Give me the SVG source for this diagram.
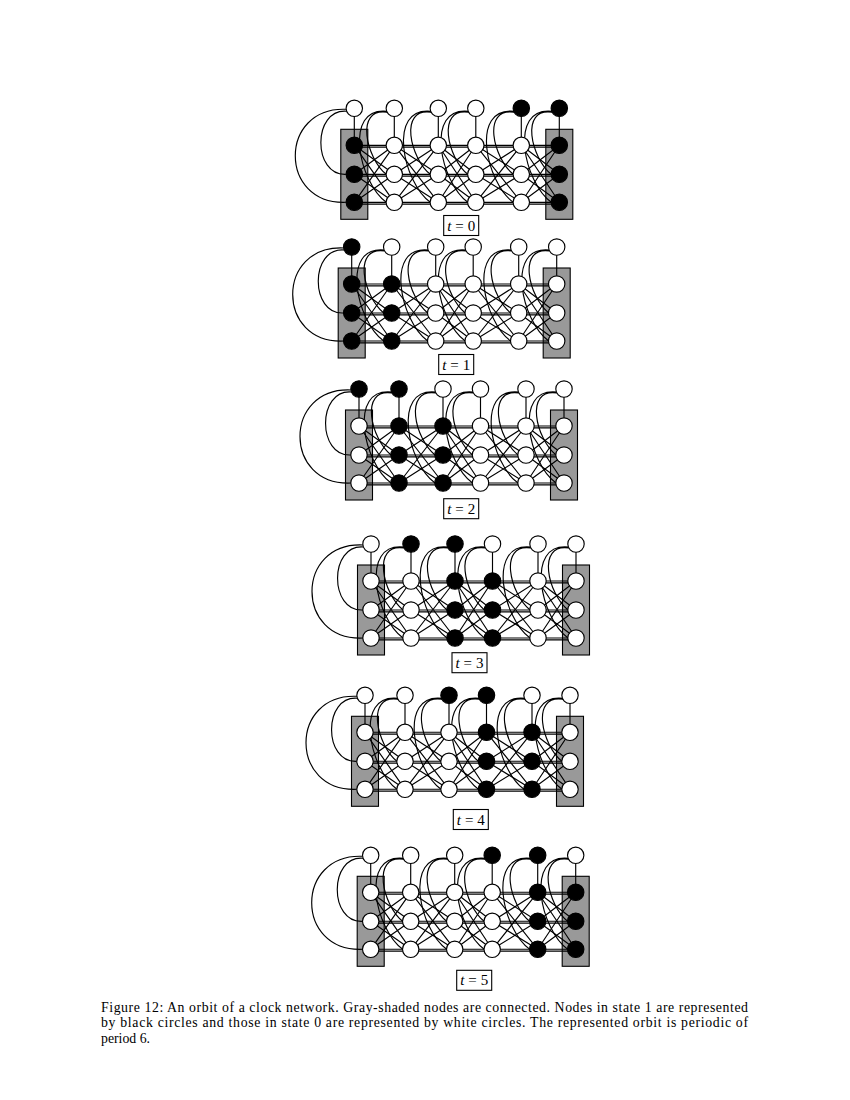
<svg xmlns="http://www.w3.org/2000/svg" xmlns:xlink="http://www.w3.org/1999/xlink" width="850" height="1100" viewBox="0 0 850 1100">
<style>
.e{fill:none;stroke:#000;stroke-width:1.15}
.g{fill:#999;stroke:#000;stroke-width:1.1}
.w{fill:#fff;stroke:#000;stroke-width:1.15}
.b{fill:#000;stroke:#000;stroke-width:1.15}
.lb{fill:#fff;stroke:#000;stroke-width:1.1}
.lt{font-family:"Liberation Serif","DejaVu Serif",serif;font-size:15px;fill:#000}
.cap{font-family:"Liberation Serif","DejaVu Serif",serif;font-size:13.8px;fill:#000}
</style>
<defs>
<g id="net">
<path class="e" d="M0 37L40 37M0 37L40 66M0 37L40 94M0 66L40 37M0 66L40 66M0 66L40 94M0 94L40 37M0 94L40 66M0 94L40 94"/>
<path class="e" d="M40 37L84 37M40 37L84 66M40 37L84 94M40 66L84 37M40 66L84 66M40 66L84 94M40 94L84 37M40 94L84 66M40 94L84 94"/>
<path class="e" d="M84 37L121.5 37M84 37L121.5 66M84 37L121.5 94M84 66L121.5 37M84 66L121.5 66M84 66L121.5 94M84 94L121.5 37M84 94L121.5 66M84 94L121.5 94"/>
<path class="e" d="M121.5 37L167 37M121.5 37L167 66M121.5 37L167 94M121.5 66L167 37M121.5 66L167 66M121.5 66L167 94M121.5 94L167 37M121.5 94L167 66M121.5 94L167 94"/>
<path class="e" d="M167 37L205 37M167 37L205 66M167 37L205 94M167 66L205 37M167 66L205 66M167 66L205 94M167 94L205 37M167 94L205 66M167 94L205 94"/>
<path class="e" d="M0 38.8L205 38.8M0 67.8L205 67.8M0 95.8L205 95.8"/>
<path class="e" d="M0 0V37M40 0V37M84 0V37M121.5 0V37M167 0V37M205 0V37"/>
<path class="e" d="M-8 1C-76 -2 -76 97 -8 94M-7.5 3C-42 0 -42 68 -8 66"/>
<path class="e" d="M33 3C-12 -2 5 75 32 94M33 4C0 -1 12 50 32 66"/>
<path class="e" d="M77 3C32 -2 49 75 76 94M77 4C44 -1 56 50 76 66"/>
<path class="e" d="M114.5 3C69.5 -2 86.5 75 113.5 94M114.5 4C81.5 -1 93.5 50 113.5 66"/>
<path class="e" d="M160 3C115 -2 132 75 159 94M160 4C127 -1 139 50 159 66"/>
<path class="e" d="M198 3C153 -2 170 75 197 94M198 4C165 -1 177 50 197 66"/>
</g>
<g id="shade">
<rect class="g" x="-13.5" y="21" width="27" height="90"/>
<rect class="g" x="191.5" y="21" width="27" height="90"/>
</g>
</defs>

<!-- Panel t=0 -->
<g id="panel0" transform="translate(354.3,108.3)">
<g id="p0-shade"><use xlink:href="#shade"/></g>
<g id="p0-connectors"><use xlink:href="#net"/></g>
<g id="p0-u1"><circle class="w" cx="0" cy="0" r="8.2"/></g>
<g id="p0-u2"><circle class="w" cx="40" cy="0" r="8.2"/></g>
<g id="p0-u3"><circle class="w" cx="84" cy="0" r="8.2"/></g>
<g id="p0-u4"><circle class="w" cx="121.5" cy="0" r="8.2"/></g>
<g id="p0-u5"><circle class="b" cx="167" cy="0" r="8.2"/></g>
<g id="p0-u6"><circle class="b" cx="205" cy="0" r="8.2"/></g>
<g id="p0-a1"><circle class="b" cx="0" cy="37" r="8.2"/></g>
<g id="p0-b1"><circle class="b" cx="0" cy="66" r="8.2"/></g>
<g id="p0-c1"><circle class="b" cx="0" cy="94" r="8.2"/></g>
<g id="p0-a2"><circle class="w" cx="40" cy="37" r="8.2"/></g>
<g id="p0-b2"><circle class="w" cx="40" cy="66" r="8.2"/></g>
<g id="p0-c2"><circle class="w" cx="40" cy="94" r="8.2"/></g>
<g id="p0-a3"><circle class="w" cx="84" cy="37" r="8.2"/></g>
<g id="p0-b3"><circle class="w" cx="84" cy="66" r="8.2"/></g>
<g id="p0-c3"><circle class="w" cx="84" cy="94" r="8.2"/></g>
<g id="p0-a4"><circle class="w" cx="121.5" cy="37" r="8.2"/></g>
<g id="p0-b4"><circle class="w" cx="121.5" cy="66" r="8.2"/></g>
<g id="p0-c4"><circle class="w" cx="121.5" cy="94" r="8.2"/></g>
<g id="p0-a5"><circle class="w" cx="167" cy="37" r="8.2"/></g>
<g id="p0-b5"><circle class="w" cx="167" cy="66" r="8.2"/></g>
<g id="p0-c5"><circle class="w" cx="167" cy="94" r="8.2"/></g>
<g id="p0-a6"><circle class="b" cx="205" cy="37" r="8.2"/></g>
<g id="p0-b6"><circle class="b" cx="205" cy="66" r="8.2"/></g>
<g id="p0-c6"><circle class="b" cx="205" cy="94" r="8.2"/></g>
</g>
<g id="label0"><rect class="lb" x="443.7" y="215.5" width="35" height="20"/><text class="lt" x="461.2" y="230.5" text-anchor="middle"><tspan font-style="italic">t</tspan><tspan dx="4">=</tspan><tspan dx="4">0</tspan></text></g>

<!-- Panel t=1 -->
<g id="panel1" transform="translate(351.7,247)">
<g id="p1-shade"><use xlink:href="#shade"/></g>
<g id="p1-connectors"><use xlink:href="#net"/></g>
<g id="p1-u1"><circle class="b" cx="0" cy="0" r="8.2"/></g>
<g id="p1-u2"><circle class="w" cx="40" cy="0" r="8.2"/></g>
<g id="p1-u3"><circle class="w" cx="84" cy="0" r="8.2"/></g>
<g id="p1-u4"><circle class="w" cx="121.5" cy="0" r="8.2"/></g>
<g id="p1-u5"><circle class="w" cx="167" cy="0" r="8.2"/></g>
<g id="p1-u6"><circle class="w" cx="205" cy="0" r="8.2"/></g>
<g id="p1-a1"><circle class="b" cx="0" cy="37" r="8.2"/></g>
<g id="p1-b1"><circle class="b" cx="0" cy="66" r="8.2"/></g>
<g id="p1-c1"><circle class="b" cx="0" cy="94" r="8.2"/></g>
<g id="p1-a2"><circle class="b" cx="40" cy="37" r="8.2"/></g>
<g id="p1-b2"><circle class="b" cx="40" cy="66" r="8.2"/></g>
<g id="p1-c2"><circle class="b" cx="40" cy="94" r="8.2"/></g>
<g id="p1-a3"><circle class="w" cx="84" cy="37" r="8.2"/></g>
<g id="p1-b3"><circle class="w" cx="84" cy="66" r="8.2"/></g>
<g id="p1-c3"><circle class="w" cx="84" cy="94" r="8.2"/></g>
<g id="p1-a4"><circle class="w" cx="121.5" cy="37" r="8.2"/></g>
<g id="p1-b4"><circle class="w" cx="121.5" cy="66" r="8.2"/></g>
<g id="p1-c4"><circle class="w" cx="121.5" cy="94" r="8.2"/></g>
<g id="p1-a5"><circle class="w" cx="167" cy="37" r="8.2"/></g>
<g id="p1-b5"><circle class="w" cx="167" cy="66" r="8.2"/></g>
<g id="p1-c5"><circle class="w" cx="167" cy="94" r="8.2"/></g>
<g id="p1-a6"><circle class="w" cx="205" cy="37" r="8.2"/></g>
<g id="p1-b6"><circle class="w" cx="205" cy="66" r="8.2"/></g>
<g id="p1-c6"><circle class="w" cx="205" cy="94" r="8.2"/></g>
</g>
<g id="label1"><rect class="lb" x="438.7" y="354.5" width="35" height="20"/><text class="lt" x="456.2" y="369.5" text-anchor="middle"><tspan font-style="italic">t</tspan><tspan dx="4">=</tspan><tspan dx="4">1</tspan></text></g>

<!-- Panel t=2 -->
<g id="panel2" transform="translate(359,389)">
<g id="p2-shade"><use xlink:href="#shade"/></g>
<g id="p2-connectors"><use xlink:href="#net"/></g>
<g id="p2-u1"><circle class="b" cx="0" cy="0" r="8.2"/></g>
<g id="p2-u2"><circle class="b" cx="40" cy="0" r="8.2"/></g>
<g id="p2-u3"><circle class="w" cx="84" cy="0" r="8.2"/></g>
<g id="p2-u4"><circle class="w" cx="121.5" cy="0" r="8.2"/></g>
<g id="p2-u5"><circle class="w" cx="167" cy="0" r="8.2"/></g>
<g id="p2-u6"><circle class="w" cx="205" cy="0" r="8.2"/></g>
<g id="p2-a1"><circle class="w" cx="0" cy="37" r="8.2"/></g>
<g id="p2-b1"><circle class="w" cx="0" cy="66" r="8.2"/></g>
<g id="p2-c1"><circle class="w" cx="0" cy="94" r="8.2"/></g>
<g id="p2-a2"><circle class="b" cx="40" cy="37" r="8.2"/></g>
<g id="p2-b2"><circle class="b" cx="40" cy="66" r="8.2"/></g>
<g id="p2-c2"><circle class="b" cx="40" cy="94" r="8.2"/></g>
<g id="p2-a3"><circle class="b" cx="84" cy="37" r="8.2"/></g>
<g id="p2-b3"><circle class="b" cx="84" cy="66" r="8.2"/></g>
<g id="p2-c3"><circle class="b" cx="84" cy="94" r="8.2"/></g>
<g id="p2-a4"><circle class="w" cx="121.5" cy="37" r="8.2"/></g>
<g id="p2-b4"><circle class="w" cx="121.5" cy="66" r="8.2"/></g>
<g id="p2-c4"><circle class="w" cx="121.5" cy="94" r="8.2"/></g>
<g id="p2-a5"><circle class="w" cx="167" cy="37" r="8.2"/></g>
<g id="p2-b5"><circle class="w" cx="167" cy="66" r="8.2"/></g>
<g id="p2-c5"><circle class="w" cx="167" cy="94" r="8.2"/></g>
<g id="p2-a6"><circle class="w" cx="205" cy="37" r="8.2"/></g>
<g id="p2-b6"><circle class="w" cx="205" cy="66" r="8.2"/></g>
<g id="p2-c6"><circle class="w" cx="205" cy="94" r="8.2"/></g>
</g>
<g id="label2"><rect class="lb" x="443.7" y="498.7" width="35" height="20"/><text class="lt" x="461.2" y="513.7" text-anchor="middle"><tspan font-style="italic">t</tspan><tspan dx="4">=</tspan><tspan dx="4">2</tspan></text></g>

<!-- Panel t=3 -->
<g id="panel3" transform="translate(371,544)">
<g id="p3-shade"><use xlink:href="#shade"/></g>
<g id="p3-connectors"><use xlink:href="#net"/></g>
<g id="p3-u1"><circle class="w" cx="0" cy="0" r="8.2"/></g>
<g id="p3-u2"><circle class="b" cx="40" cy="0" r="8.2"/></g>
<g id="p3-u3"><circle class="b" cx="84" cy="0" r="8.2"/></g>
<g id="p3-u4"><circle class="w" cx="121.5" cy="0" r="8.2"/></g>
<g id="p3-u5"><circle class="w" cx="167" cy="0" r="8.2"/></g>
<g id="p3-u6"><circle class="w" cx="205" cy="0" r="8.2"/></g>
<g id="p3-a1"><circle class="w" cx="0" cy="37" r="8.2"/></g>
<g id="p3-b1"><circle class="w" cx="0" cy="66" r="8.2"/></g>
<g id="p3-c1"><circle class="w" cx="0" cy="94" r="8.2"/></g>
<g id="p3-a2"><circle class="w" cx="40" cy="37" r="8.2"/></g>
<g id="p3-b2"><circle class="w" cx="40" cy="66" r="8.2"/></g>
<g id="p3-c2"><circle class="w" cx="40" cy="94" r="8.2"/></g>
<g id="p3-a3"><circle class="b" cx="84" cy="37" r="8.2"/></g>
<g id="p3-b3"><circle class="b" cx="84" cy="66" r="8.2"/></g>
<g id="p3-c3"><circle class="b" cx="84" cy="94" r="8.2"/></g>
<g id="p3-a4"><circle class="b" cx="121.5" cy="37" r="8.2"/></g>
<g id="p3-b4"><circle class="b" cx="121.5" cy="66" r="8.2"/></g>
<g id="p3-c4"><circle class="b" cx="121.5" cy="94" r="8.2"/></g>
<g id="p3-a5"><circle class="w" cx="167" cy="37" r="8.2"/></g>
<g id="p3-b5"><circle class="w" cx="167" cy="66" r="8.2"/></g>
<g id="p3-c5"><circle class="w" cx="167" cy="94" r="8.2"/></g>
<g id="p3-a6"><circle class="w" cx="205" cy="37" r="8.2"/></g>
<g id="p3-b6"><circle class="w" cx="205" cy="66" r="8.2"/></g>
<g id="p3-c6"><circle class="w" cx="205" cy="94" r="8.2"/></g>
</g>
<g id="label3"><rect class="lb" x="452" y="652.7" width="35" height="20"/><text class="lt" x="469.5" y="667.7" text-anchor="middle"><tspan font-style="italic">t</tspan><tspan dx="4">=</tspan><tspan dx="4">3</tspan></text></g>

<!-- Panel t=4 -->
<g id="panel4" transform="translate(365,695.3)">
<g id="p4-shade"><use xlink:href="#shade"/></g>
<g id="p4-connectors"><use xlink:href="#net"/></g>
<g id="p4-u1"><circle class="w" cx="0" cy="0" r="8.2"/></g>
<g id="p4-u2"><circle class="w" cx="40" cy="0" r="8.2"/></g>
<g id="p4-u3"><circle class="b" cx="84" cy="0" r="8.2"/></g>
<g id="p4-u4"><circle class="b" cx="121.5" cy="0" r="8.2"/></g>
<g id="p4-u5"><circle class="w" cx="167" cy="0" r="8.2"/></g>
<g id="p4-u6"><circle class="w" cx="205" cy="0" r="8.2"/></g>
<g id="p4-a1"><circle class="w" cx="0" cy="37" r="8.2"/></g>
<g id="p4-b1"><circle class="w" cx="0" cy="66" r="8.2"/></g>
<g id="p4-c1"><circle class="w" cx="0" cy="94" r="8.2"/></g>
<g id="p4-a2"><circle class="w" cx="40" cy="37" r="8.2"/></g>
<g id="p4-b2"><circle class="w" cx="40" cy="66" r="8.2"/></g>
<g id="p4-c2"><circle class="w" cx="40" cy="94" r="8.2"/></g>
<g id="p4-a3"><circle class="w" cx="84" cy="37" r="8.2"/></g>
<g id="p4-b3"><circle class="w" cx="84" cy="66" r="8.2"/></g>
<g id="p4-c3"><circle class="w" cx="84" cy="94" r="8.2"/></g>
<g id="p4-a4"><circle class="b" cx="121.5" cy="37" r="8.2"/></g>
<g id="p4-b4"><circle class="b" cx="121.5" cy="66" r="8.2"/></g>
<g id="p4-c4"><circle class="b" cx="121.5" cy="94" r="8.2"/></g>
<g id="p4-a5"><circle class="b" cx="167" cy="37" r="8.2"/></g>
<g id="p4-b5"><circle class="b" cx="167" cy="66" r="8.2"/></g>
<g id="p4-c5"><circle class="b" cx="167" cy="94" r="8.2"/></g>
<g id="p4-a6"><circle class="w" cx="205" cy="37" r="8.2"/></g>
<g id="p4-b6"><circle class="w" cx="205" cy="66" r="8.2"/></g>
<g id="p4-c6"><circle class="w" cx="205" cy="94" r="8.2"/></g>
</g>
<g id="label4"><rect class="lb" x="453.3" y="809.5" width="35" height="20"/><text class="lt" x="470.8" y="824.5" text-anchor="middle"><tspan font-style="italic">t</tspan><tspan dx="4">=</tspan><tspan dx="4">4</tspan></text></g>

<!-- Panel t=5 -->
<g id="panel5" transform="translate(370.7,855.3)">
<g id="p5-shade"><use xlink:href="#shade"/></g>
<g id="p5-connectors"><use xlink:href="#net"/></g>
<g id="p5-u1"><circle class="w" cx="0" cy="0" r="8.2"/></g>
<g id="p5-u2"><circle class="w" cx="40" cy="0" r="8.2"/></g>
<g id="p5-u3"><circle class="w" cx="84" cy="0" r="8.2"/></g>
<g id="p5-u4"><circle class="b" cx="121.5" cy="0" r="8.2"/></g>
<g id="p5-u5"><circle class="b" cx="167" cy="0" r="8.2"/></g>
<g id="p5-u6"><circle class="w" cx="205" cy="0" r="8.2"/></g>
<g id="p5-a1"><circle class="w" cx="0" cy="37" r="8.2"/></g>
<g id="p5-b1"><circle class="w" cx="0" cy="66" r="8.2"/></g>
<g id="p5-c1"><circle class="w" cx="0" cy="94" r="8.2"/></g>
<g id="p5-a2"><circle class="w" cx="40" cy="37" r="8.2"/></g>
<g id="p5-b2"><circle class="w" cx="40" cy="66" r="8.2"/></g>
<g id="p5-c2"><circle class="w" cx="40" cy="94" r="8.2"/></g>
<g id="p5-a3"><circle class="w" cx="84" cy="37" r="8.2"/></g>
<g id="p5-b3"><circle class="w" cx="84" cy="66" r="8.2"/></g>
<g id="p5-c3"><circle class="w" cx="84" cy="94" r="8.2"/></g>
<g id="p5-a4"><circle class="w" cx="121.5" cy="37" r="8.2"/></g>
<g id="p5-b4"><circle class="w" cx="121.5" cy="66" r="8.2"/></g>
<g id="p5-c4"><circle class="w" cx="121.5" cy="94" r="8.2"/></g>
<g id="p5-a5"><circle class="b" cx="167" cy="37" r="8.2"/></g>
<g id="p5-b5"><circle class="b" cx="167" cy="66" r="8.2"/></g>
<g id="p5-c5"><circle class="b" cx="167" cy="94" r="8.2"/></g>
<g id="p5-a6"><circle class="b" cx="205" cy="37" r="8.2"/></g>
<g id="p5-b6"><circle class="b" cx="205" cy="66" r="8.2"/></g>
<g id="p5-c6"><circle class="b" cx="205" cy="94" r="8.2"/></g>
</g>
<g id="label5"><rect class="lb" x="456.7" y="970.3" width="35" height="20"/><text class="lt" x="474.2" y="985.3" text-anchor="middle"><tspan font-style="italic">t</tspan><tspan dx="4">=</tspan><tspan dx="4">5</tspan></text></g>

<g id="caption">
<text class="cap" x="101" y="1011.5" textLength="647" lengthAdjust="spacing">Figure 12: An orbit of a clock network. Gray-shaded nodes are connected. Nodes in state 1 are represented</text>
<text class="cap" x="101" y="1027" textLength="647" lengthAdjust="spacing">by black circles and those in state 0 are represented by white circles. The represented orbit is periodic of</text>
<text class="cap" x="101" y="1042.5">period 6.</text>
</g>
</svg>
